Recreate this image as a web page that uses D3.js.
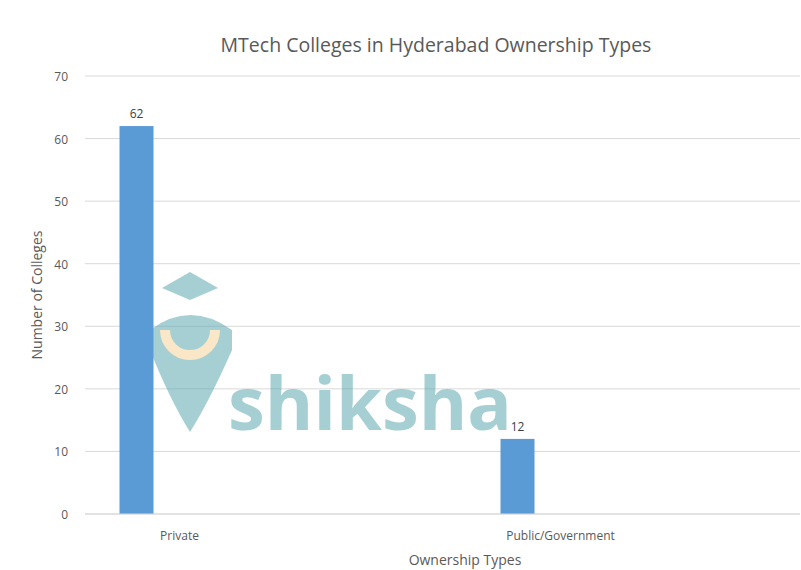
<!DOCTYPE html>
<html><head><meta charset="utf-8">
<script src="https://cdn.jsdelivr.net/npm/d3@7"></script>
<style>body{margin:0;background:#fff}</style></head>
<body><svg id="c" width="801" height="570"></svg>
<script>
const categories = ["Private", "Public/Government"];
const values = [62, 12];
const yTicks = [0,10,20,30,40,50,60,70];

const svg = d3.select("#c");
const font = "'Open Sans', sans-serif";
const x = d3.scaleBand().domain(categories).range([-11, 751]);
const y = d3.scaleLinear().domain([0,70]).range([514, 76]);

svg.append("g").selectAll("line").data(yTicks).join("line")
  .attr("x1", 85).attr("x2", 800).attr("y1", d=>y(d)).attr("y2", d=>y(d))
  .attr("stroke", "#d9d9d9").attr("stroke-width", 1);

svg.append("g").selectAll("text").data(yTicks).join("text")
  .attr("x", 68).attr("y", d=>y(d)+5).attr("text-anchor","end")
  .attr("font-family", font).attr("font-size", 12).attr("fill","#595959").text(d=>d);

// watermark
const wm = svg.append("g").attr("opacity", 0.55);
wm.append("text").attr("x", 228).attr("y", 430).attr("font-family","'Open Sans', sans-serif")
  .attr("font-weight", "bold").attr("font-size", 74).attr("fill", "#5fa9b0").text("shiksha");
wm.append("path").attr("d","M150 330 Q190 300 232 330 L232 350 Q210 400 190 432 Q170 400 150 350 Z").attr("fill","#5fa9b0");
wm.append("path").attr("d","M165 330 A25 25 0 0 0 215 330").attr("fill","none").attr("stroke","#f5d59a").attr("stroke-width",10);
wm.append("path").attr("d","M162 288 L190 272 L218 288 L190 300 Z").attr("fill","#5fa9b0");

svg.append("g").selectAll("rect").data(values).join("rect")
  .attr("x", (d,i)=>x(categories[i]) + x.bandwidth()/2 - 60)
  .attr("width", 34).attr("y", d=>y(d)).attr("height", d=>y(0)-y(d))
  .attr("fill", "#5b9bd5");

svg.append("g").selectAll("text").data(values).join("text")
  .attr("x", (d,i)=>x(categories[i]) + x.bandwidth()/2 - 43)
  .attr("y", d=>y(d)-8).attr("text-anchor","middle")
  .attr("font-family", font).attr("font-size", 12).attr("fill","#404040").text(d=>d);

svg.append("line").attr("x1",85).attr("x2",800).attr("y1",y(0)).attr("y2",y(0)).attr("stroke","#d9d9d9");

svg.append("g").selectAll("text").data(categories).join("text")
  .attr("x", d=>x(d)+x.bandwidth()/2).attr("y", 540).attr("text-anchor","middle")
  .attr("font-family", font).attr("font-size", 12).attr("fill","#595959").text(d=>d);

svg.append("text").attr("x", 436).attr("y", 52).attr("text-anchor","middle")
  .attr("font-family", font).attr("font-size", 19.5).attr("fill","#595959")
  .text("MTech Colleges in Hyderabad Ownership Types");

svg.append("text").attr("x", 465).attr("y", 565).attr("text-anchor","middle")
  .attr("font-family", font).attr("font-size", 14).attr("fill","#595959").text("Ownership Types");
svg.append("text").attr("transform","translate(42,295) rotate(-90)").attr("text-anchor","middle")
  .attr("font-family", font).attr("font-size", 14).attr("fill","#595959").text("Number of Colleges");
</script></body></html>
